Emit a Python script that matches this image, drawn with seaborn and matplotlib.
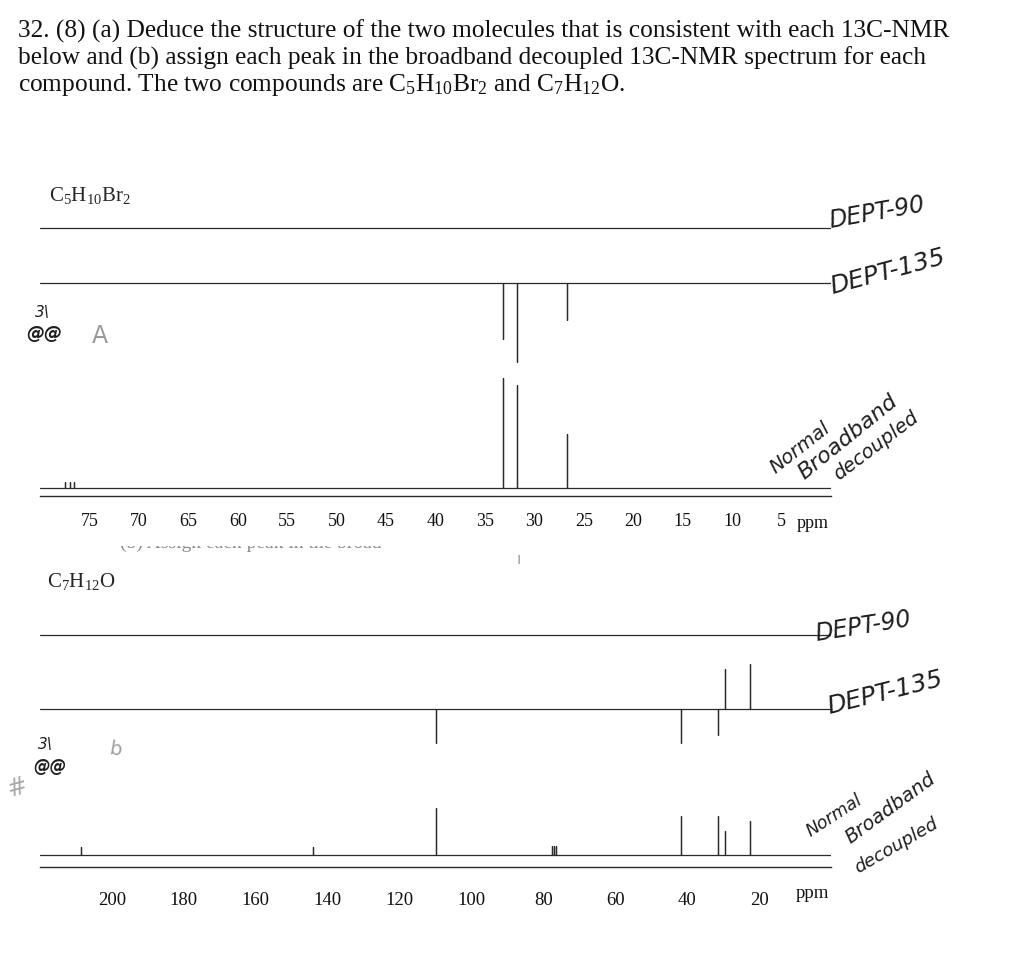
import numpy as np
import pandas as pd
import matplotlib
matplotlib.use("Agg")
import matplotlib.pyplot as plt
from matplotlib.ticker import FixedLocator, MultipleLocator
from matplotlib.transforms import Bbox
import seaborn as sns

# --- data (ppm, relative intensity) ---
bromo_bb_ppm = [77.5, 77.0, 76.6, 33.2, 31.8, 26.7]
bromo_bb_int = [6, 6, 6, 110, 103, 54]
bromo_d135_ppm = [33.2, 31.8, 26.7]
bromo_d135_int = [-56, -79, -37]
bromo_d90_ppm = []
bromo_d90_int = []

ketone_bb_ppm = [208.6, 144.0, 110.0, 77.5, 77.0, 76.6, 41.7, 31.5, 29.6, 22.5]
ketone_bb_int = [8, 8, 47, 9, 9, 9, 39, 39, 24, 34]
ketone_d135_ppm = [110.0, 41.7, 31.5, 29.6, 22.5]
ketone_d135_int = [-34, -34, -26, 40, 45]
ketone_d90_ppm = []
ketone_d90_int = []

bromo_ticks = [75, 70, 65, 60, 55, 50, 45, 40, 35, 30, 25, 20, 15, 10, 5]
ketone_ticks = [200, 180, 160, 140, 120, 100, 80, 60, 40, 20]

title = ("32. (8) (a) Deduce the structure of the two molecules that is consistent with each 13C-NMR\n"
         "below and (b) assign each peak in the broadband decoupled 13C-NMR spectrum for each\n"
         r"compound. The two compounds are $\mathrm{C_5H_{10}Br_2}$ and $\mathrm{C_7H_{12}O}$.")

sns.set_style("white")
plt.rcParams["font.family"] = ["Liberation Serif", "DejaVu Serif"]
plt.rcParams["mathtext.fontset"] = "custom"
plt.rcParams["mathtext.rm"] = "Liberation Serif"
plt.rcParams["mathtext.it"] = "Liberation Serif:italic"

W, H = 1024, 975
INK = "#2b2b2b"
PEN = "#1e1e1e"


def fx(x):
    return x / W


def fy(y):
    return 1 - y / H


def stick_trace(ppm, inten, lo, hi, offset):
    # one polyline: flat baseline with a stick at each peak
    xs, ys = [hi], [offset]
    for p, h in sorted(zip(ppm, inten), key=lambda t: -t[0]):
        xs += [p, p, p]
        ys += [offset, offset + h, offset]
    xs.append(lo)
    ys.append(offset)
    return pd.DataFrame({"ppm": xs, "y": ys})


def spectrum_panel(fig, top_px, spine_px, hi, traces, ticks, minor, fsize, pad, ppm_y):
    ax = fig.add_axes([fx(40), fy(spine_px), (831 - 40) / W, (spine_px - top_px) / H])
    for ppm, inten, off in traces:
        df = stick_trace(ppm, inten, 0, hi, off)
        sns.lineplot(data=df, x="ppm", y="y", sort=False, estimator=None,
                     color=INK, lw=0.9, ax=ax)
    ax.set_xlim(hi, 0)
    ax.set_ylim(0, spine_px - top_px)
    for s in ["left", "right", "top"]:
        ax.spines[s].set_visible(False)
    ax.spines["bottom"].set_color(INK)
    ax.spines["bottom"].set_linewidth(1.0)
    ax.xaxis.set_major_locator(FixedLocator(ticks + [0]))
    ax.set_xticklabels([str(t) for t in ticks] + [""])
    ax.xaxis.set_minor_locator(MultipleLocator(minor))
    ax.tick_params(axis="x", which="major", direction="out", length=9, width=0.9,
                   color=INK, labelsize=fsize, pad=pad, labelcolor="#111111")
    ax.tick_params(axis="x", which="minor", direction="out", length=4, width=0.7, color=INK)
    ax.set_yticks([])
    ax.set_xlabel("")
    ax.set_ylabel("")
    fig.text(fx(829), fy(ppm_y), "ppm", ha="right", va="center", fontsize=fsize, color="#111111")
    return ax


fig = plt.figure(figsize=(W / 100, H / 100), dpi=100)

fig.text(fx(18), fy(20), title, ha="left", va="top", fontsize=18.3,
         linespacing=1.15, color="#111111")

# C5H10Br2 panel
fig.text(fx(49), fy(195), r"$\mathrm{C_5H_{10}Br_2}$", ha="left", va="center", fontsize=15)
spectrum_panel(fig, 200, 496, 80,
               [(bromo_bb_ppm, bromo_bb_int, 8),
                (bromo_d135_ppm, bromo_d135_int, 213),
                (bromo_d90_ppm, bromo_d90_int, 268)],
               bromo_ticks, 1, 13, 3, 523)

# C7H12O panel
fig.text(fx(47), fy(582), r"$\mathrm{C_7H_{12}O}$", ha="left", va="center", fontsize=15)
spectrum_panel(fig, 600, 867, 220,
               [(ketone_bb_ppm, ketone_bb_int, 12),
                (ketone_d135_ppm, ketone_d135_int, 158),
                (ketone_d90_ppm, ketone_d90_int, 232)],
               ketone_ticks, 10, 13.5, 9, 893)

# faint bleed-through line of the scan: only the lower edge of the letters shows
ghost = fig.text(fx(120), fy(543), "(b) Assign each peak in the broad",
                 ha="left", va="center", fontsize=14, color="#8a8a8a")
ghost.set_clip_box(Bbox([[0, H - 556], [W, H - 546]]))
ghost.set_clip_on(True)

# handwritten notes
hand = dict(family="DejaVu Sans", fontstyle="oblique", color=PEN, ha="center", va="center")
notes = [
    ("DEPT-90", 877, 213, 10, 17),
    ("DEPT-135", 888, 272, 15, 18),
    ("Normal", 800, 448, 38, 14),
    ("Broadband", 848, 437, 39, 16),
    ("decoupled", 876, 446, 37, 14),
    ("DEPT-90", 863, 627, 9, 17),
    ("DEPT-135", 885, 693, 14, 18),
    ("Normal", 834, 816, 33, 12.5),
    ("Broadband", 890, 808, 36, 14),
    ("decoupled", 896, 846, 30, 13),
]
for txt, x, y, rot, sz in notes:
    fig.text(fx(x), fy(y), txt, rotation=rot, fontsize=sz, **hand)

fig.text(fx(42), fy(312), "3\\", fontsize=11, **hand)
fig.text(fx(44), fy(334), "@@", fontsize=13, fontweight="bold", **hand)
fig.text(fx(100), fy(336), "A", fontsize=17, family="DejaVu Sans", color="#9a9a9a",
         ha="center", va="center")
fig.text(fx(45), fy(745), "3\\", fontsize=11, **hand)
fig.text(fx(50), fy(767), "@@", fontsize=12, fontweight="bold", **hand)
fig.text(fx(17), fy(788), "#", fontsize=17, family="DejaVu Sans", color="#a8a8a8",
         ha="center", va="center", rotation=15)
fig.text(fx(115), fy(750), "b", fontsize=14, family="DejaVu Sans", color="#a0a0a0",
         ha="center", va="center", rotation=-10)
fig.text(fx(518), fy(560), "|", fontsize=7, color="#222222", ha="center", va="center",
         fontweight="bold")

fig.savefig("out.png", dpi=100, facecolor="white")
